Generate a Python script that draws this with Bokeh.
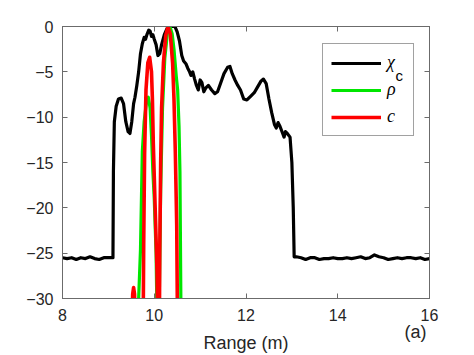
from bokeh.plotting import figure
from bokeh.models import (Range1d, FixedTicker, LinearAxis, Legend, LegendItem, Label)
from bokeh.embed import file_html
from bokeh.resources import INLINE

# --- data ---
chi_x = [8.0, 8.1, 8.2, 8.3, 8.4, 8.5, 8.6, 8.7, 8.8, 8.9, 9.0, 9.1,
         9.11, 9.13, 9.17, 9.22, 9.28, 9.33, 9.38, 9.43, 9.47, 9.51, 9.55, 9.58,
         9.62, 9.66, 9.70, 9.74, 9.78, 9.81, 9.84, 9.88, 9.91, 9.94, 9.97, 10.0,
         10.04, 10.08, 10.12, 10.16, 10.22, 10.28, 10.32, 10.38, 10.45, 10.5,
         10.55, 10.6, 10.64, 10.69, 10.73, 10.77, 10.8, 10.84, 10.88, 10.92,
         10.96, 11.0, 11.04, 11.08, 11.12, 11.18, 11.25, 11.32, 11.38, 11.45,
         11.52, 11.6, 11.65, 11.7, 11.76, 11.82, 11.88, 11.95, 12.02, 12.1,
         12.18, 12.26, 12.33, 12.38, 12.44, 12.5, 12.56, 12.62, 12.66, 12.7,
         12.74, 12.8, 12.83, 12.86, 12.9, 12.96, 13.0, 13.03, 13.05,
         13.1, 13.2, 13.3, 13.4, 13.5, 13.6, 13.7, 13.8, 13.9, 14.0, 14.1,
         14.2, 14.3, 14.4, 14.5, 14.6, 14.7, 14.8, 14.9, 15.0, 15.1, 15.2,
         15.3, 15.4, 15.5, 15.6, 15.7, 15.8, 15.9, 16.0]
chi_db = [-25.5, -25.6, -25.5, -25.7, -25.5, -25.6, -25.4, -25.6, -25.7, -25.5, -25.5, -25.5,
          -16.0, -10.5, -8.8, -8.0, -7.9, -8.5, -10.5, -11.6, -11.8, -10.5, -8.5, -7.8,
          -6.5, -5.0, -3.0, -1.9, -1.2, -1.4, -0.9, -0.4, -0.5, -1.1, -0.9, -1.4,
          -2.0, -3.2, -3.0, -2.0, -0.9, -0.2, 0.0, 0.0, 0.0, -0.6,
          -1.6, -3.2, -3.8, -4.1, -4.6, -5.0, -5.4, -5.0, -5.8, -6.5,
          -7.0, -5.9, -6.2, -7.2, -6.8, -6.5, -7.0, -7.4, -7.2, -6.2,
          -5.2, -4.5, -4.4, -5.2, -5.9, -6.5, -7.0, -8.0, -8.1, -7.7,
          -7.3, -6.6, -6.0, -5.8, -6.3, -8.0, -9.5, -10.8, -11.2, -10.6,
          -11.0, -11.8, -12.2, -11.6, -11.8, -12.2, -15.0, -20.0, -25.4,
          -25.4, -25.5, -25.7, -25.5, -25.5, -25.7, -25.6, -25.6, -25.5, -25.6, -25.6,
          -25.5, -25.6, -25.5, -25.4, -25.6, -25.5, -25.2, -25.4, -25.5, -25.7, -25.6,
          -25.5, -25.6, -25.5, -25.5, -25.6, -25.5, -25.7, -25.6]

rho_x = [9.64, 9.66, 9.70, 9.74, 9.78, 9.83, 9.87, 9.91, 9.94, 9.97, 10.0,
         10.04, 10.06, 10.08, 10.11, 10.14, 10.18, 10.23, 10.29, 10.34, 10.39,
         10.43, 10.48, 10.51, 10.54, 10.56, 10.58, 10.6]
rho_db = [-45.0, -30.0, -24.6, -13.8, -10.5, -8.3, -7.8, -9.0, -12.0, -16.0, -19.0,
          -25.0, -32.0, -45.0, -30.0, -18.0, -9.0, -3.5, -0.6, 0.0, -0.8,
          -2.5, -5.5, -7.0, -11.0, -16.0, -30.0, -45.0]

c_x = [9.50, 9.53, 9.55, 9.57, 9.60, 9.65, 9.72, 9.75, 9.77, 9.79, 9.82, 9.86,
       9.90, 9.94, 9.96, 9.98, 10.02, 10.06, 10.08, 10.10, 10.12, 10.14, 10.16,
       10.20, 10.25, 10.30, 10.35, 10.40, 10.43, 10.46, 10.49, 10.51, 10.53]
c_db = [-35.0, -29.5, -28.8, -29.5, -35.0, -45.0, -45.0, -40.0, -24.0, -14.0, -7.0, -4.0,
        -3.4, -5.0, -8.0, -13.0, -20.0, -27.0, -35.0, -45.0, -25.0, -15.0, -9.0,
        -4.0, -1.0, 0.0, -0.8, -4.0, -8.0, -14.0, -22.0, -35.0, -45.0]

x_ticks = [8, 10, 12, 14, 16]
y_ticks = [0, -5, -10, -15, -20, -25, -30]
series_labels = ["\u03c7", "\u03c1", "c"]
chi_subscript = "c"
x_label = "Range (m)"
panel_tag = "(a)"

FONT = "Liberation Sans"
AX = "#6b6b6b"
TXT = "#262626"

p = figure(width=474, height=355, output_backend="svg", toolbar_location=None,
           x_range=Range1d(8, 16), y_range=Range1d(-30, 0),
           min_border_left=62, min_border_right=45, min_border_top=26, min_border_bottom=56)
p.background_fill_color = "white"
p.border_fill_color = "white"
p.outline_line_color = AX
p.outline_line_width = 1
p.grid.visible = False

for ax in (p.xaxis[0], p.yaxis[0]):
    ax.axis_line_color = AX
    ax.major_tick_line_color = AX
    ax.major_tick_in = 5
    ax.major_tick_out = 0
    ax.minor_tick_line_color = None
    ax.major_label_text_font = FONT
    ax.major_label_text_font_size = "16px"
    ax.major_label_text_color = TXT
p.xaxis[0].ticker = FixedTicker(ticks=x_ticks)
p.yaxis[0].ticker = FixedTicker(ticks=y_ticks)
p.xaxis[0].major_label_standoff = 10
p.yaxis[0].major_label_standoff = 9
p.xaxis[0].axis_label = x_label
p.xaxis[0].axis_label_text_font = FONT
p.xaxis[0].axis_label_text_font_size = "18px"
p.xaxis[0].axis_label_text_font_style = "normal"
p.xaxis[0].axis_label_text_color = TXT
p.xaxis[0].axis_label_standoff = 9

top = LinearAxis(ticker=FixedTicker(ticks=x_ticks), major_label_text_color=None,
                 major_label_text_font_size="10px",
                 axis_line_color=AX, major_tick_line_color=AX, major_tick_in=5,
                 major_tick_out=0, minor_tick_line_color=None, major_label_standoff=0)
right = LinearAxis(ticker=FixedTicker(ticks=y_ticks), major_label_text_color=None,
                   major_label_text_font_size="10px",
                   axis_line_color=AX, major_tick_line_color=AX, major_tick_in=5,
                   major_tick_out=0, minor_tick_line_color=None, major_label_standoff=0)
p.add_layout(top, "above")
p.add_layout(right, "right")

r_chi = p.line(chi_x, chi_db, line_color="black", line_width=3.2, line_join="round")
r_rho = p.line(rho_x, rho_db, line_color="#00e600", line_width=3.2, line_join="round")
r_c = p.line(c_x, c_db, line_color="#ff0000", line_width=3.6, line_join="round")

# subscript of chi, drawn under the (transparent) legend box
p.add_layout(Label(x=8 + (395 - 62) / 45.875, y=-(75 - 26) / 9.1, text=chi_subscript,
                   text_font=FONT, text_font_size="15px", text_color="black",
                   text_baseline="middle", text_align="left"))

legend = Legend(items=[LegendItem(label=series_labels[0], renderers=[r_chi]),
                       LegendItem(label=series_labels[1], renderers=[r_rho]),
                       LegendItem(label=series_labels[2], renderers=[r_c])],
                location=(260, 162), orientation="vertical",
                glyph_width=50, glyph_height=20, label_height=20, label_width=18,
                label_standoff=6, spacing=6, padding=8, margin=0,
                border_line_color="#444444", border_line_width=1,
                background_fill_alpha=0,
                label_text_font="Liberation Serif", label_text_font_style="italic",
                label_text_font_size="18px", label_text_color="black")
p.add_layout(legend, "center")

# panel tag, placed in the right side panel and shifted back under the frame
p.add_layout(Label(x=-14, y=-33, x_units="screen", y_units="screen", text=panel_tag,
                   text_font=FONT, text_font_size="18px", text_color=TXT,
                   text_baseline="middle", text_align="center"), "right")

open("out.html", "w").write(file_html(p, INLINE))
